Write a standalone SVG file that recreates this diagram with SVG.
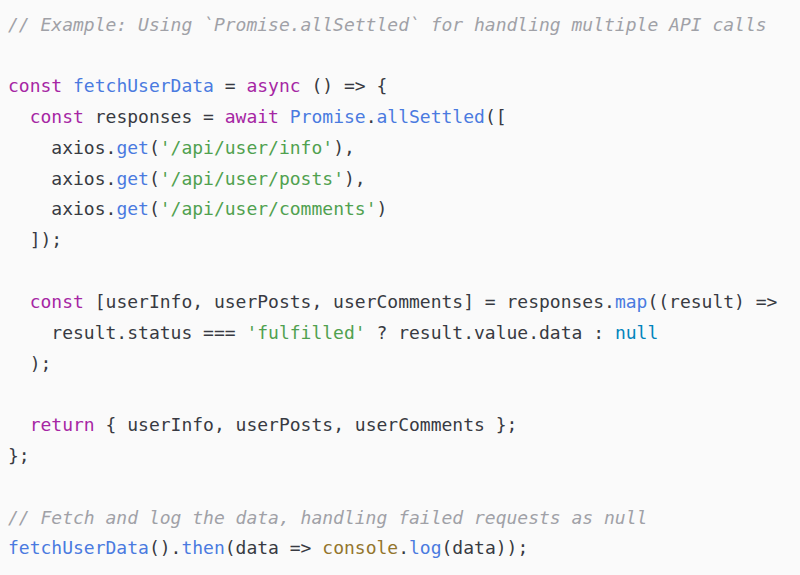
<svg xmlns="http://www.w3.org/2000/svg" width="800" height="575" viewBox="0 0 800 575">
<style>
text{font-family:"DejaVu Sans Mono","Liberation Mono",monospace;font-size:18px;fill:#383a42;white-space:pre}
.c{fill:#a0a1a7;font-style:italic}
.k{fill:#a626a4}
.f{fill:#4a7ae0}
.s{fill:#50a14f}
.n{fill:#0184bc}
.y{fill:#93752c}
</style>
<rect width="800" height="575" fill="#fafafa"/>
<g id="code" xml:space="preserve">
<text x="8" y="30.5" class="c">// Example: Using `Promise.allSettled` for handling multiple API calls</text>
<text x="8" y="92.1"><tspan class="k">const</tspan> <tspan class="f">fetchUserData</tspan> = <tspan class="k">async</tspan> () =&gt; {</text>
<text x="8" y="123">  <tspan class="k">const</tspan> responses = <tspan class="k">await</tspan> <tspan class="f">Promise</tspan>.<tspan class="f">allSettled</tspan>([</text>
<text x="8" y="153.8">    axios.<tspan class="f">get</tspan>(<tspan class="s">'/api/user/info'</tspan>),</text>
<text x="8" y="184.6">    axios.<tspan class="f">get</tspan>(<tspan class="s">'/api/user/posts'</tspan>),</text>
<text x="8" y="215.4">    axios.<tspan class="f">get</tspan>(<tspan class="s">'/api/user/comments'</tspan>)</text>
<text x="8" y="246.2">  ]);</text>
<text x="8" y="307.9">  <tspan class="k">const</tspan> [userInfo, userPosts, userComments] = responses.<tspan class="f">map</tspan>((result) =&gt;</text>
<text x="8" y="338.7">    result.status === <tspan class="s">'fulfilled'</tspan> ? result.value.data : <tspan class="n">null</tspan></text>
<text x="8" y="369.5">  );</text>
<text x="8" y="431.2">  <tspan class="k">return</tspan> { userInfo, userPosts, userComments };</text>
<text x="8" y="462">};</text>
<text x="8" y="523.6" class="c">// Fetch and log the data, handling failed requests as null</text>
<text x="8" y="554.4"><tspan class="f">fetchUserData</tspan>().<tspan class="f">then</tspan>(data =&gt; <tspan class="y">console</tspan>.<tspan class="f">log</tspan>(data));</text>
</g>
</svg>
